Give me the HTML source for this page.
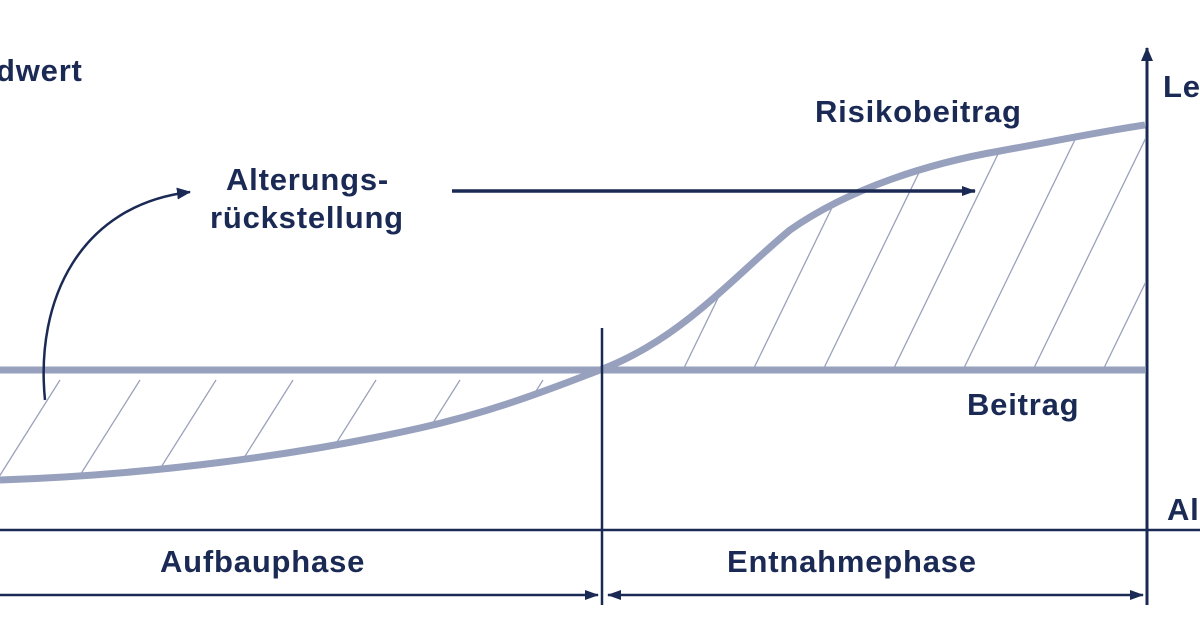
<!DOCTYPE html>
<html><head><meta charset="utf-8"><style>
html,body{margin:0;padding:0;background:#fff;}
svg{display:block}
text{font-family:"Liberation Sans",sans-serif;font-weight:bold;fill:#1b2a55;font-size:31px;letter-spacing:0.8px;}
</style></head><body>
<svg width="1200" height="630" viewBox="0 0 1200 630" xmlns="http://www.w3.org/2000/svg">
<defs>
<clipPath id="lo"><path d="M0,370 L600,370 C560,385 500,410 420,428 C300,455 150,475 0,480 Z"/></clipPath>
<clipPath id="hi"><path d="M600,370 C680,340 730,280 790,230 C850,188 930,163 1000,151 C1060,140 1110,130 1145,125 L1145,370 Z"/></clipPath>
<marker id="ah" markerWidth="14" markerHeight="14" refX="13" refY="7" orient="auto" markerUnits="userSpaceOnUse"><path d="M0,1 L14,7 L0,13 Z" fill="#1b2a55"/></marker>
<marker id="ah2" markerWidth="14" markerHeight="12" refX="13" refY="6" orient="auto-start-reverse" markerUnits="userSpaceOnUse"><path d="M0,1 L14,6 L0,11 Z" fill="#1b2a55"/></marker>
</defs>
<g clip-path="url(#lo)" stroke="#9aa1bb" stroke-width="1.3">
<path d="M-3,480 L60,380 M77,480 L140,380 M153,480 L216,380 M230,480 L293,380 M313,480 L376,380 M397,480 L460,380 M480,480 L543,380 M560,480 L623,380"/>
</g>
<g clip-path="url(#hi)" stroke="#9aa1bb" stroke-width="1.3">
<path d="M683,370 L824,80 M753,370 L894,80 M823,370 L964,80 M893,370 L1034,80 M963,370 L1104,80 M1033,370 L1174,80 M1103,370 L1244,80"/>
</g>
<line x1="0" y1="370" x2="1145" y2="370" stroke="#97a0bd" stroke-width="7"/>
<path d="M0,480 C150,475 300,455 420,428 C500,410 560,385 600,370 C680,340 730,280 790,230 C850,188 930,163 1000,151 C1060,140 1110,130 1145,125" fill="none" stroke="#97a0bd" stroke-width="7"/>
<line x1="1147" y1="605" x2="1147" y2="48" stroke="#1b2a55" stroke-width="3" marker-end="url(#ah)"/>
<line x1="0" y1="530" x2="1200" y2="530" stroke="#1b2a55" stroke-width="2.5"/>
<line x1="602" y1="328" x2="602" y2="605" stroke="#1b2a55" stroke-width="2.5"/>
<line x1="0" y1="595" x2="598" y2="595" stroke="#1b2a55" stroke-width="2.5" marker-end="url(#ah2)"/>
<line x1="608" y1="595" x2="1143" y2="595" stroke="#1b2a55" stroke-width="2.5" marker-start="url(#ah2)" marker-end="url(#ah2)"/>
<line x1="452" y1="191" x2="975" y2="191" stroke="#1b2a55" stroke-width="3.5" marker-end="url(#ah2)"/>
<path d="M45,400 C35,300 80,205 190,192" fill="none" stroke="#1b2a55" stroke-width="2.5" marker-end="url(#ah)"/>
<text x="-4" y="81">dwert</text>
<text x="226" y="190">Alterungs-</text>
<text x="210" y="228">rückstellung</text>
<text x="815" y="122">Risikobeitrag</text>
<text x="967" y="415">Beitrag</text>
<text x="160" y="572">Aufbauphase</text>
<text x="727" y="572">Entnahmephase</text>
<text x="1163" y="97">Lei</text>
<text x="1167" y="520">Al</text>
</svg>
</body></html>
